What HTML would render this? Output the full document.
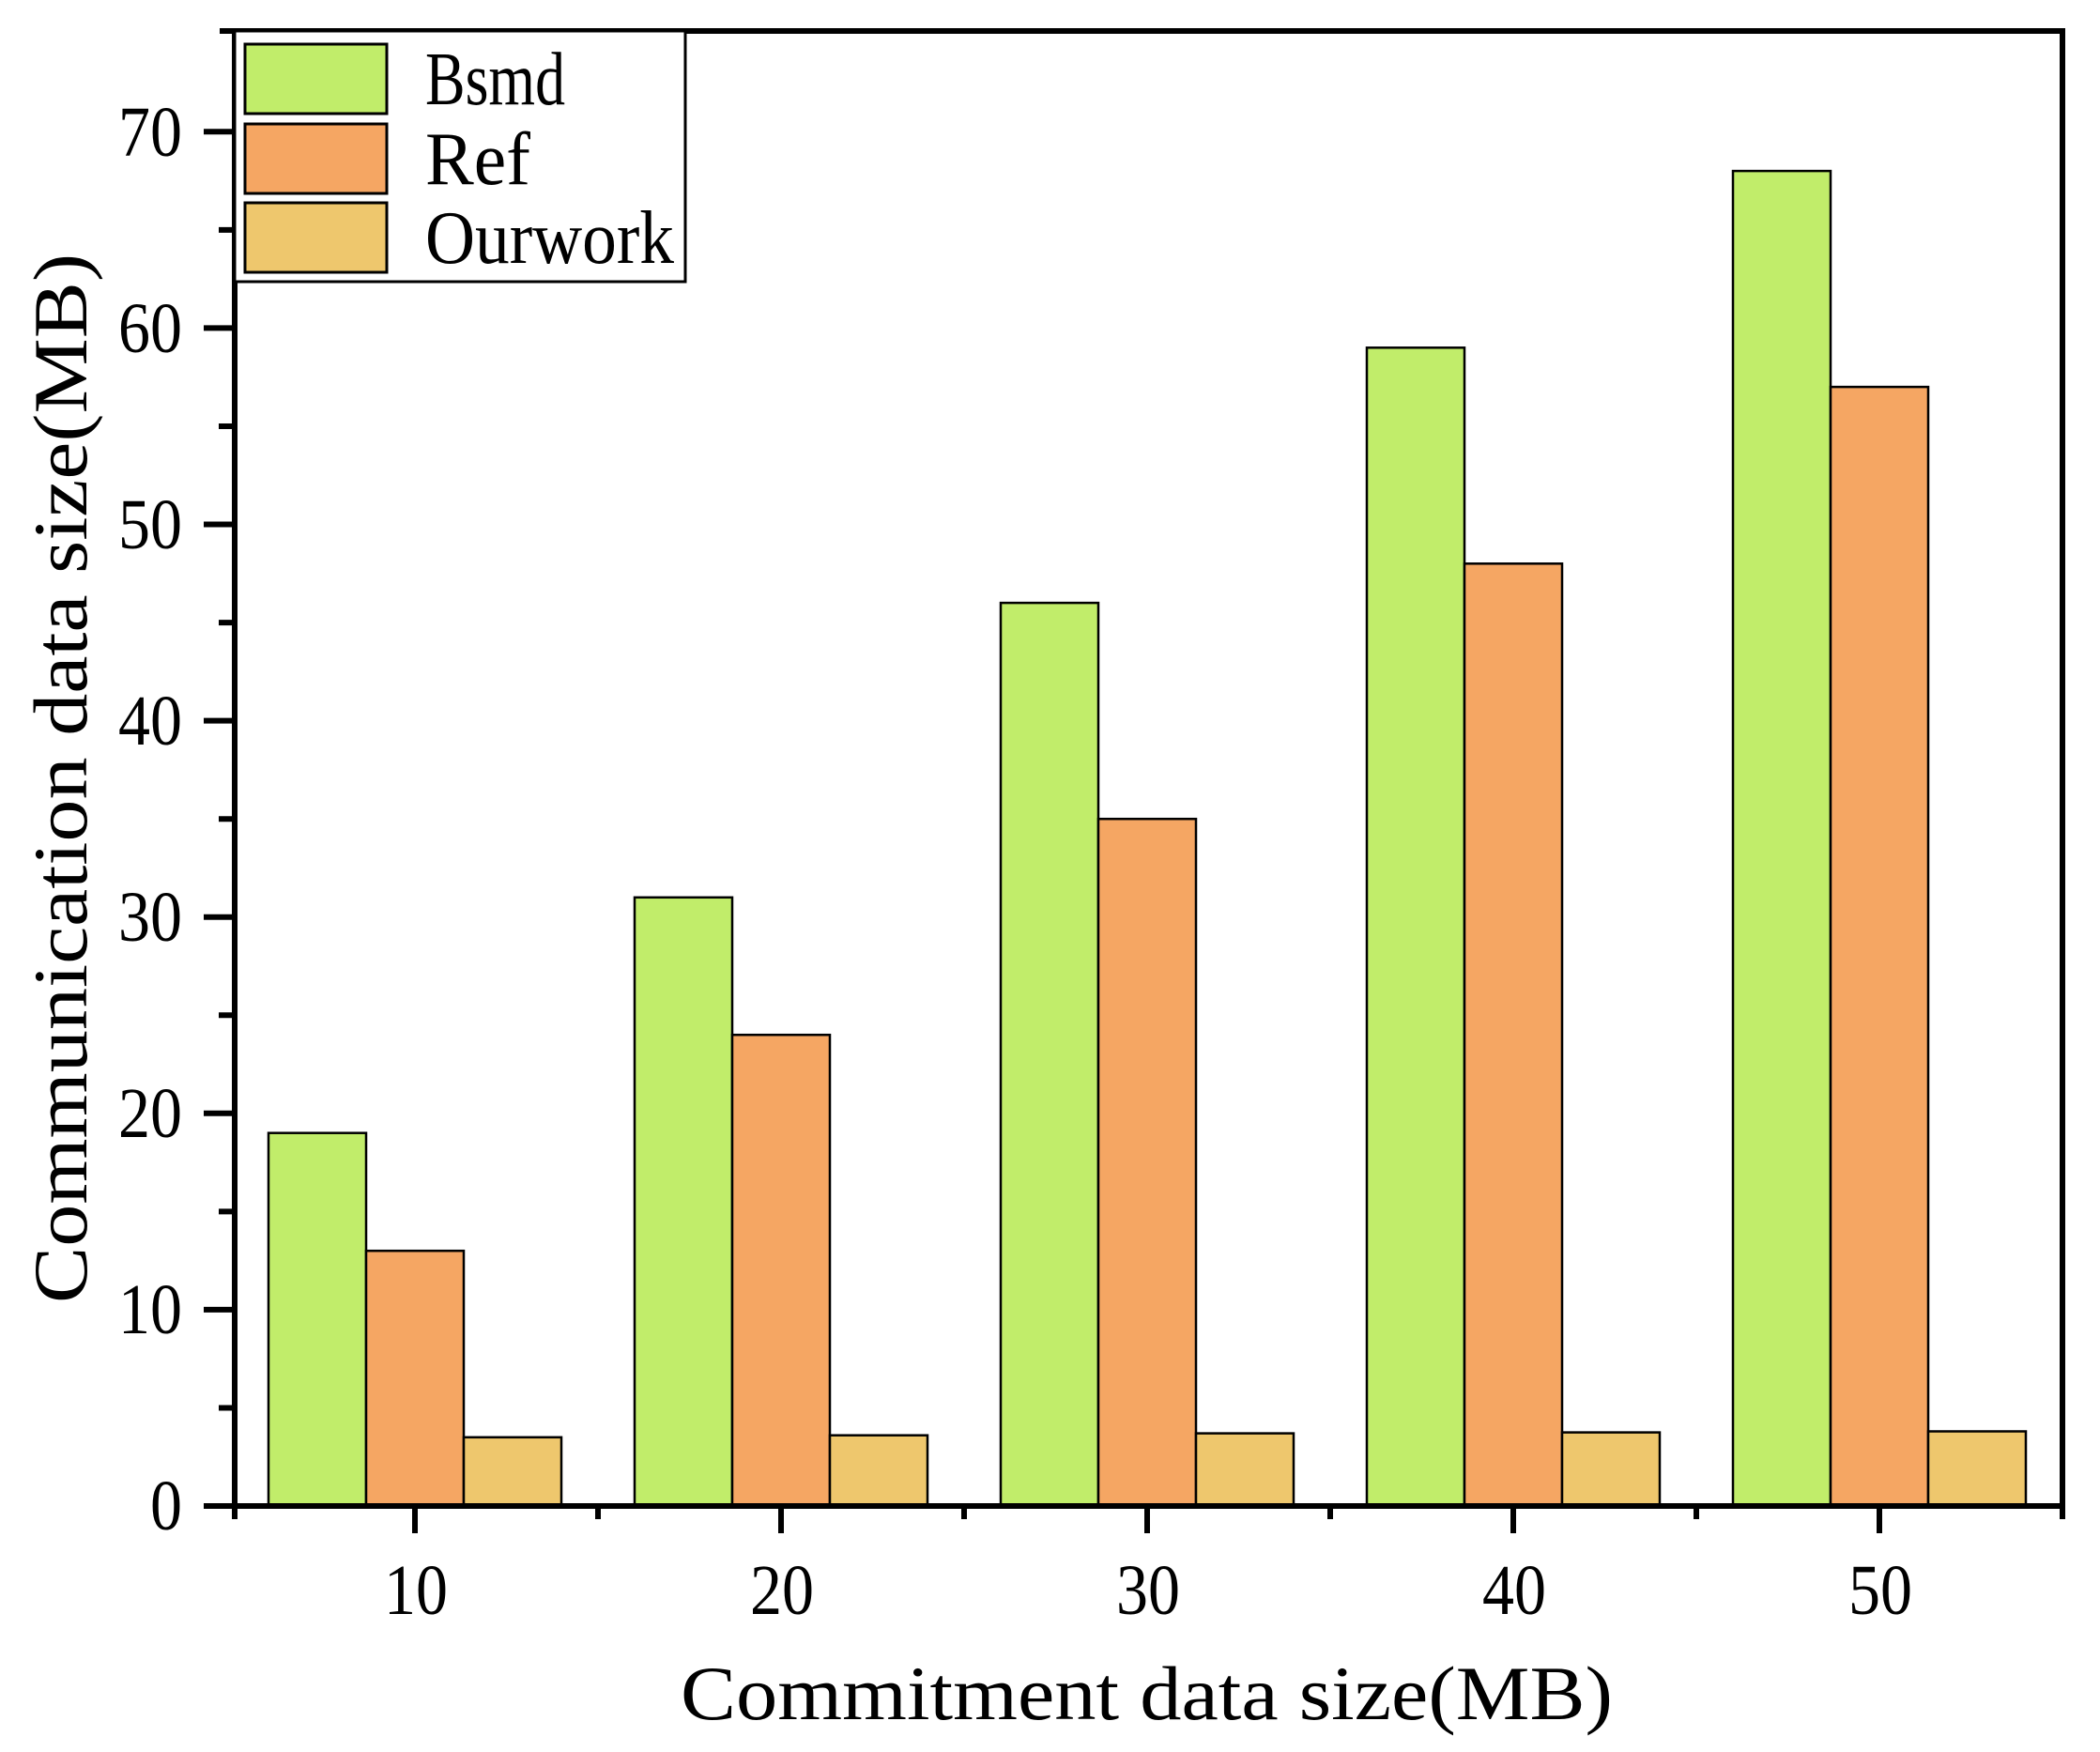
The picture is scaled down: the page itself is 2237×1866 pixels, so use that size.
<!DOCTYPE html>
<html><head><meta charset="utf-8"><style>html,body{margin:0;padding:0;background:#fff}svg{display:block}</style></head>
<body>
<svg width="2237" height="1866" viewBox="0 0 2237 1866" xmlns="http://www.w3.org/2000/svg" font-family="Liberation Serif, serif">
<rect width="2237" height="1866" fill="#fff"/>
<g stroke="#000" stroke-width="2.5">
<rect x="286" y="1206.7" width="104" height="397.3" fill="#c1ed6a"/>
<rect x="390" y="1332.2" width="104" height="271.8" fill="#f5a663"/>
<rect x="494" y="1530.8" width="104" height="73.2" fill="#eec76d"/>
<rect x="676" y="955.8" width="104" height="648.2" fill="#c1ed6a"/>
<rect x="780" y="1102.2" width="104" height="501.8" fill="#f5a663"/>
<rect x="884" y="1528.7" width="104" height="75.3" fill="#eec76d"/>
<rect x="1066" y="642.1" width="104" height="961.9" fill="#c1ed6a"/>
<rect x="1170" y="872.2" width="104" height="731.8" fill="#f5a663"/>
<rect x="1274" y="1526.6" width="104" height="77.4" fill="#eec76d"/>
<rect x="1456" y="370.3" width="104" height="1233.7" fill="#c1ed6a"/>
<rect x="1560" y="600.3" width="104" height="1003.7" fill="#f5a663"/>
<rect x="1664" y="1525.6" width="104" height="78.4" fill="#eec76d"/>
<rect x="1846" y="182.1" width="104" height="1421.9" fill="#c1ed6a"/>
<rect x="1950" y="412.1" width="104" height="1191.9" fill="#f5a663"/>
<rect x="2054" y="1524.5" width="104" height="79.5" fill="#eec76d"/>
</g>
<g stroke="#000" stroke-width="6" fill="none">
<line x1="250" y1="30" x2="250" y2="1618"/>
<line x1="218" y1="1604" x2="2200" y2="1604"/>
<line x1="2197" y1="30" x2="2197" y2="1618"/>
<line x1="234" y1="33" x2="2200" y2="33"/>
<line x1="217" y1="1604" x2="250" y2="1604"/>
<line x1="217" y1="1394.9" x2="250" y2="1394.9"/>
<line x1="217" y1="1185.8" x2="250" y2="1185.8"/>
<line x1="217" y1="976.7" x2="250" y2="976.7"/>
<line x1="217" y1="767.6" x2="250" y2="767.6"/>
<line x1="217" y1="558.5" x2="250" y2="558.5"/>
<line x1="217" y1="349.4" x2="250" y2="349.4"/>
<line x1="217" y1="140.3" x2="250" y2="140.3"/>
<line x1="233" y1="1499.5" x2="250" y2="1499.5"/>
<line x1="233" y1="1290.4" x2="250" y2="1290.4"/>
<line x1="233" y1="1081.3" x2="250" y2="1081.3"/>
<line x1="233" y1="872.2" x2="250" y2="872.2"/>
<line x1="233" y1="663.1" x2="250" y2="663.1"/>
<line x1="233" y1="454" x2="250" y2="454"/>
<line x1="233" y1="244.9" x2="250" y2="244.9"/>
<line x1="442" y1="1604" x2="442" y2="1633"/>
<line x1="832" y1="1604" x2="832" y2="1633"/>
<line x1="1222" y1="1604" x2="1222" y2="1633"/>
<line x1="1612" y1="1604" x2="1612" y2="1633"/>
<line x1="2002" y1="1604" x2="2002" y2="1633"/>
<line x1="637" y1="1604" x2="637" y2="1618"/>
<line x1="1027" y1="1604" x2="1027" y2="1618"/>
<line x1="1417" y1="1604" x2="1417" y2="1618"/>
<line x1="1807" y1="1604" x2="1807" y2="1618"/>
</g>
<g font-size="76" fill="#000">
<text x="160" y="1629" textLength="34" lengthAdjust="spacingAndGlyphs">0</text>
<text x="126" y="1420" textLength="68" lengthAdjust="spacingAndGlyphs">10</text>
<text x="126" y="1211" textLength="68" lengthAdjust="spacingAndGlyphs">20</text>
<text x="126" y="1002" textLength="68" lengthAdjust="spacingAndGlyphs">30</text>
<text x="126" y="793" textLength="68" lengthAdjust="spacingAndGlyphs">40</text>
<text x="126" y="584" textLength="68" lengthAdjust="spacingAndGlyphs">50</text>
<text x="126" y="375" textLength="68" lengthAdjust="spacingAndGlyphs">60</text>
<text x="126" y="166" textLength="68" lengthAdjust="spacingAndGlyphs">70</text>
<text x="409" y="1719" textLength="68" lengthAdjust="spacingAndGlyphs">10</text>
<text x="799" y="1719" textLength="68" lengthAdjust="spacingAndGlyphs">20</text>
<text x="1189" y="1719" textLength="68" lengthAdjust="spacingAndGlyphs">30</text>
<text x="1579" y="1719" textLength="68" lengthAdjust="spacingAndGlyphs">40</text>
<text x="1969" y="1719" textLength="68" lengthAdjust="spacingAndGlyphs">50</text>
</g>
<text x="725" y="1831" font-size="82" textLength="993" lengthAdjust="spacingAndGlyphs" fill="#000">Commitment data size(MB)</text>
<text transform="translate(92,1388) rotate(-90)" x="0" y="0" font-size="82" textLength="1118" lengthAdjust="spacingAndGlyphs" fill="#000">Communication data size(MB)</text>
<rect x="250" y="33" width="480" height="267" fill="#fff" stroke="#000" stroke-width="3"/>
<g stroke="#000" stroke-width="3">
<rect x="261" y="47" width="151" height="74" fill="#c1ed6a"/>
<rect x="261" y="132" width="151" height="74" fill="#f5a663"/>
<rect x="261" y="216" width="151" height="74" fill="#eec76d"/>
</g>
<g font-size="80" fill="#000">
<text x="453" y="111" textLength="149" lengthAdjust="spacingAndGlyphs">Bsmd</text>
<text x="453" y="196" textLength="112" lengthAdjust="spacingAndGlyphs">Ref</text>
<text x="453" y="280" textLength="265" lengthAdjust="spacingAndGlyphs">Ourwork</text>
</g>
</svg>
</body></html>
